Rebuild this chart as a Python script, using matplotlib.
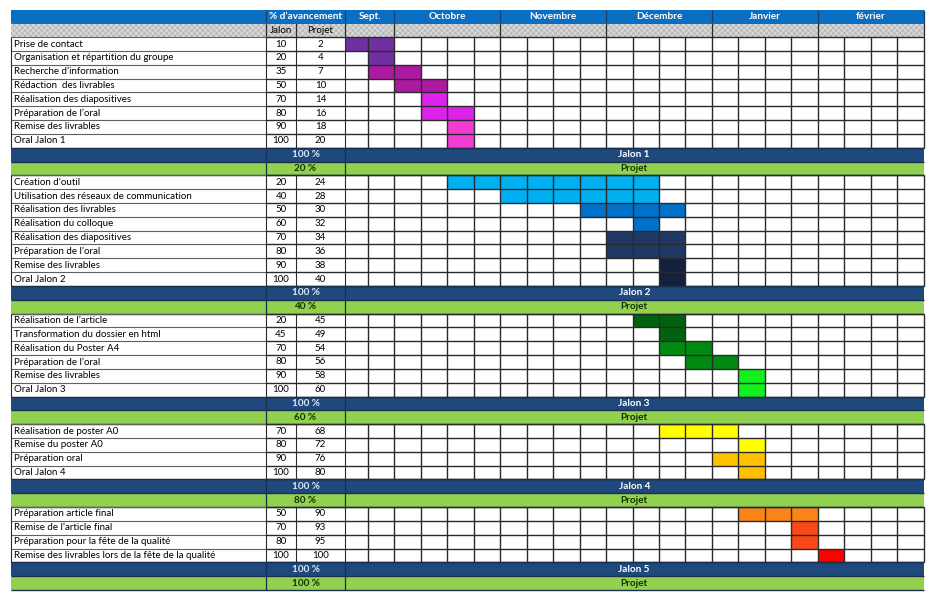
import matplotlib
matplotlib.use("Agg")
import matplotlib.pyplot as plt
from matplotlib.patches import Rectangle

# ---------------- data ----------------
months = ["Sept.", "Octobre", "Novembre", "Décembre", "Janvier", "février"]
weeks_per_month = [2, 4, 4, 4, 4, 4]

s1_tasks = ["Prise de contact", "Organisation et répartition du groupe", "Recherche d’information",
            "Rédaction  des livrables", "Réalisation des diapositives", "Préparation de l’oral",
            "Remise des livrables", "Oral Jalon 1"]
s1_jalon = [10, 20, 35, 50, 70, 80, 90, 100]
s1_projet = [2, 4, 7, 10, 14, 16, 18, 20]
s1_start = [0, 1, 1, 2, 3, 3, 4, 4]
s1_weeks = [2, 1, 2, 2, 1, 2, 1, 1]

s2_tasks = ["Création d’outil", "Utilisation des réseaux de communication", "Réalisation des livrables",
            "Réalisation du colloque", "Réalisation des diapositives", "Préparation de l’oral",
            "Remise des livrables", "Oral Jalon 2"]
s2_jalon = [20, 40, 50, 60, 70, 80, 90, 100]
s2_projet = [24, 28, 30, 32, 34, 36, 38, 40]
s2_start = [4, 6, 9, 11, 10, 10, 12, 12]
s2_weeks = [8, 6, 4, 1, 3, 3, 1, 1]

s3_tasks = ["Réalisation de l’article", "Transformation du dossier en html", "Réalisation du Poster A4",
            "Préparation de l’oral", "Remise des livrables", "Oral Jalon 3"]
s3_jalon = [20, 45, 70, 80, 90, 100]
s3_projet = [45, 49, 54, 56, 58, 60]
s3_start = [11, 12, 12, 13, 15, 15]
s3_weeks = [2, 1, 2, 2, 1, 1]

s4_tasks = ["Réalisation de poster A0", "Remise du poster A0", "Préparation oral", "Oral Jalon 4"]
s4_jalon = [70, 80, 90, 100]
s4_projet = [68, 72, 76, 80]
s4_start = [12, 15, 14, 15]
s4_weeks = [3, 1, 2, 1]

s5_tasks = ["Préparation article final", "Remise de l’article final",
            "Préparation pour la fête de la qualité",
            "Remise des livrables lors de la fête de la qualité"]
s5_jalon = [50, 70, 80, 100]
s5_projet = [90, 93, 95, 100]
s5_start = [15, 17, 17, 18]
s5_weeks = [3, 1, 1, 1]

jalon_labels = ["Jalon 1", "Jalon 2", "Jalon 3", "Jalon 4", "Jalon 5"]
jalon_pct = ["100 %", "100 %", "100 %", "100 %", "100 %"]
projet_pct = ["20 %", "40 %", "60 %", "80 %", "100 %"]

# ---------------- styles ----------------
s1_colors = ["#7030A0", "#7030A0", "#AC1AA2", "#AC1AA2", "#DD22EA", "#DD22EA", "#F23CD2", "#F23CD2"]
s2_colors = ["#00B0F0", "#00B0F0", "#0070C8", "#0070C8", "#1F3864", "#1F3864", "#14213D", "#14213D"]
s3_colors = ["#006210", "#006210", "#008A12", "#008A12", "#12F020", "#12F020"]
s4_colors = ["#FFFF00", "#FFFF00", "#FFC000", "#FFC000"]
s5_colors = ["#FB8418", "#FA4818", "#FA4818", "#FF0000"]

sections = [
    (s1_tasks, s1_jalon, s1_projet, s1_start, s1_weeks, s1_colors),
    (s2_tasks, s2_jalon, s2_projet, s2_start, s2_weeks, s2_colors),
    (s3_tasks, s3_jalon, s3_projet, s3_start, s3_weeks, s3_colors),
    (s4_tasks, s4_jalon, s4_projet, s4_start, s4_weeks, s4_colors),
    (s5_tasks, s5_jalon, s5_projet, s5_start, s5_weeks, s5_colors),
]

HEADER_BLUE = "#0A6EC2"
JALON_BLUE = "#1F497D"
GREEN = "#92D050"
GRID = "#2a2a2a"
FONT = ["Lato", "DejaVu Sans"]

# layout (pixel-like units)
W, H = 935, 598
x_left, x_name, x_jal, x_proj = 10.5, 266, 296, 345
x_right = 923.5
first_week_w = 23
n_weeks = sum(weeks_per_month)
other_w = (x_right - x_proj - first_week_w) / (n_weeks - 1)
week_edges = [x_proj] + [x_proj + first_week_w + i * other_w for i in range(n_weeks)]
y_top, y_bot = 9.5, 590
n_rows = 2 + sum(len(s[0]) + 2 for s in sections)
rh = (y_bot - y_top) / n_rows

fig = plt.figure(figsize=(W / 100, H / 100), dpi=100)
ax = fig.add_axes([0, 0, 1, 1])
ax.set_xlim(0, W)
ax.set_ylim(H, 0)
ax.axis("off")

def ry(i):
    return y_top + i * rh

def hline(y, x0, x1, color=GRID, lw=0.9):
    ax.plot([x0, x1], [y, y], color=color, lw=lw, solid_capstyle="butt", zorder=4)

def vline(x, y0, y1, color=GRID, lw=0.9):
    ax.plot([x, x], [y0, y1], color=color, lw=lw, solid_capstyle="butt", zorder=4)

def txt(x, y, s, ha="center", color="black", bold=False, size=7.0):
    ax.text(x, y, s, ha=ha, va="center", color=color, fontsize=size,
            fontweight="bold" if bold else "normal", family=FONT, zorder=5)

# month edges
month_edges = [x_proj]
k = 0
for n in weeks_per_month:
    k += n
    month_edges.append(week_edges[k])

# header row 1
ax.add_patch(Rectangle((x_left, ry(0)), x_right - x_left, rh, facecolor=HEADER_BLUE, edgecolor="none", zorder=1))
txt((x_name + x_proj) / 2, ry(0.5), "% d’avancement", color="white", bold=True, size=7.2)
for m, a, b in zip(months, month_edges[:-1], month_edges[1:]):
    txt((a + b) / 2, ry(0.5), m, color="white", bold=True, size=7.2)
for x in [x_name] + month_edges:
    vline(x, ry(0), ry(1), color="#1a3d6b", lw=0.9)

# header row 2 (hatched grey)
plt.rcParams["hatch.linewidth"] = 0.4
plt.rcParams["hatch.color"] = "#a8a8a8"
ax.add_patch(Rectangle((x_left, ry(1)), x_right - x_left, rh, facecolor="#d6d6d6",
                       edgecolor="#a8a8a8", lw=0, hatch="xxxxxx", zorder=1))
txt((x_name + x_jal) / 2, ry(1.5), "Jalon")
txt((x_jal + x_proj) / 2, ry(1.5), "Projet")
for x in [x_name, x_jal] + month_edges:
    vline(x, ry(1), ry(2))
hline(ry(1), x_left, x_right, color="#555555", lw=0.7)

row = 2
for si, (tasks, jal, proj, start, nw, cols) in enumerate(sections):
    r0 = row
    for t, j, p, s, n, c in zip(tasks, jal, proj, start, nw, cols):
        y0 = ry(row)
        ax.add_patch(Rectangle((week_edges[s], y0), week_edges[s + n] - week_edges[s], rh,
                               facecolor=c, edgecolor="none", zorder=2))
        txt(x_left + 3.5, y0 + rh / 2, t, ha="left")
        txt((x_name + x_jal) / 2, y0 + rh / 2, str(j))
        txt((x_jal + x_proj) / 2, y0 + rh / 2, str(p))
        row += 1
    # grid for the task rows
    for i in range(r0, row + 1):
        hline(ry(i), x_left, x_name, color="#606060", lw=0.8)
        hline(ry(i), x_name, x_right, color=GRID, lw=1.0)
    for x in [x_left, x_name, x_jal] + week_edges:
        vline(x, ry(r0), ry(row), lw=1.0 if x > x_proj else 0.8)
    # jalon row
    ax.add_patch(Rectangle((x_left, ry(row)), x_right - x_left, rh, facecolor=JALON_BLUE, edgecolor="none", zorder=1))
    txt((x_name + x_proj) / 2, ry(row + 0.5), jalon_pct[si], color="#DCE8F6", bold=True, size=7.2)
    txt((x_proj + x_right) / 2, ry(row + 0.5), jalon_labels[si], color="white", bold=True, size=7.2)
    row += 1
    # projet row
    ax.add_patch(Rectangle((x_left, ry(row)), x_right - x_left, rh, facecolor=GREEN, edgecolor="none", zorder=1))
    txt((x_name + x_proj) / 2, ry(row + 0.5), projet_pct[si], color="#143300", bold=True, size=7.2)
    txt((x_proj + x_right) / 2, ry(row + 0.5), "Projet", color="#143300", bold=True, size=7.2)
    for i in (row - 1, row, row + 1):
        hline(ry(i), x_left, x_right, color="#1a2f4f", lw=1.0)
    for x in (x_name, x_proj):
        vline(x, ry(row - 1), ry(row + 1), color="#1a2f4f", lw=0.9)
    row += 1

fig.savefig("out.png", dpi=100, facecolor="white")
